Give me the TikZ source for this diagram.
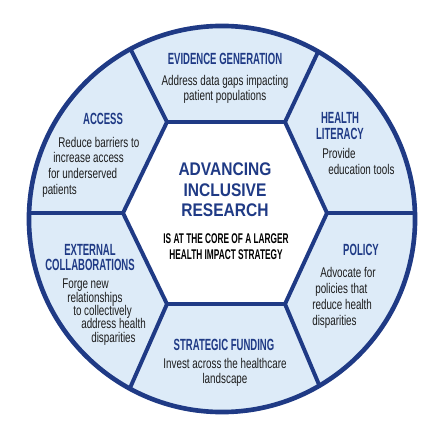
\documentclass[tikz,border=0pt]{standalone}
\usepackage{fontspec}
\setmainfont{Liberation Sans}
\newfontfamily\headfont[FakeStretch=0.59]{Liberation Sans}
\newfontfamily\bodyfont[FakeStretch=0.70]{Liberation Sans}
\newfontfamily\titlefont[FakeStretch=0.85]{Liberation Sans}
\definecolor{navy}{RGB}{31,58,133}
\definecolor{ringblue}{RGB}{221,235,248}
\definecolor{bodygray}{RGB}{28,28,28}

\begin{document}
\begin{tikzpicture}[x=0.025cm, y=-0.025cm,
    heading/.style={font=\headfont\bfseries\fontsize{11.5}{13}\selectfont, text=navy, inner sep=0pt},
    body/.style={font=\bodyfont\fontsize{10}{11}\selectfont, text=bodygray, inner sep=0pt},
    title/.style={font=\titlefont\bfseries\fontsize{13}{15}\selectfont, text=navy, inner sep=0pt},
    core/.style={font=\headfont\bfseries\fontsize{10}{12}\selectfont, text=black, inner sep=0pt},
    wall/.style={draw=navy, line width=2.8pt, line join=miter},
    rim/.style={draw=navy, line width=3.3pt}]
    \useasboundingbox (0,0) rectangle (440,440);

    \coordinate (c) at (222,219);
    \coordinate (h1) at (123,213);
    \coordinate (h2) at (167,122);
    \coordinate (h3) at (285,122);
    \coordinate (h4) at (327,213);
    \coordinate (h5) at (285,304);
    \coordinate (h6) at (167,304);
    \coordinate (e1) at (28,213);
    \coordinate (e2) at (131,50);
    \coordinate (e3) at (318,52);
    \coordinate (e4) at (414,213);
    \coordinate (e5) at (320,387);
    \coordinate (e6) at (130,388);

    \fill[ringblue] (c) circle[radius=4.825cm];
    \fill[white] (h1) -- (h2) -- (h3) -- (h4) -- (h5) -- (h6) -- cycle;
    \foreach \i in {1,...,6}
        \draw[wall] (h\i) -- (e\i);
    \draw[wall] (h1) -- (h2) -- (h3) -- (h4) -- (h5) -- (h6) -- cycle;
    \draw[rim] (c) circle[radius=4.825cm];

    \node[title, anchor=base] (adv_label) at (225,175) {ADVANCING};
    \node[title, anchor=base] (incl_label) at (225,196) {INCLUSIVE};
    \node[title, anchor=base] (res_label) at (225,216) {RESEARCH};
    \node[core, anchor=base] (core1_label) at (226,243) {IS AT THE CORE OF A LARGER};
    \node[core, anchor=base] (core2_label) at (226,259) {HEALTH IMPACT STRATEGY};

    \node[heading, anchor=base] (evid_label) at (225,65) {EVIDENCE GENERATION};
    \node[body, anchor=base] (evid1) at (225,86) {Address data gaps impacting};
    \node[body, anchor=base] (evid2) at (225,101) {patient populations};

    \node[heading, anchor=base] (access_label) at (103,124) {ACCESS};
    \node[body, anchor=base west] (access1) at (58,147) {Reduce barriers to};
    \node[body, anchor=base west] (access2) at (53,162) {increase access};
    \node[body, anchor=base west] (access3) at (48,178) {for underserved};
    \node[body, anchor=base west] (access4) at (42,194) {patients};

    \node[heading, anchor=base] (health_label) at (340,123) {HEALTH};
    \node[heading, anchor=base] (lit_label) at (340,139) {LITERACY};
    \node[body, anchor=base west] (lit1) at (322,158) {Provide};
    \node[body, anchor=base west] (lit2) at (328,174) {education tools};

    \node[heading, anchor=base] (policy_label) at (361,255) {POLICY};
    \node[body, anchor=base west] (policy1) at (320,277) {Advocate for};
    \node[body, anchor=base west] (policy2) at (315,293) {policies that};
    \node[body, anchor=base west] (policy3) at (312,309) {reduce health};
    \node[body, anchor=base west] (policy4) at (312,325) {disparities};

    \node[heading, anchor=base] (ext_label) at (90,255) {EXTERNAL};
    \node[heading, anchor=base] (collab_label) at (90,270) {COLLABORATIONS};
    \node[body, anchor=base west] (ext1) at (62,288) {Forge new};
    \node[body, anchor=base west] (ext2) at (67,302) {relationships};
    \node[body, anchor=base west] (ext3) at (73,315) {to collectively};
    \node[body, anchor=base west] (ext4) at (81,328) {address health};
    \node[body, anchor=base west] (ext5) at (91,342) {disparities};

    \node[heading, anchor=base] (fund_label) at (224,350) {STRATEGIC FUNDING};
    \node[body, anchor=base] (fund1) at (225,368) {Invest across the healthcare};
    \node[body, anchor=base] (fund2) at (225,383) {landscape};
\end{tikzpicture}
\end{document}
